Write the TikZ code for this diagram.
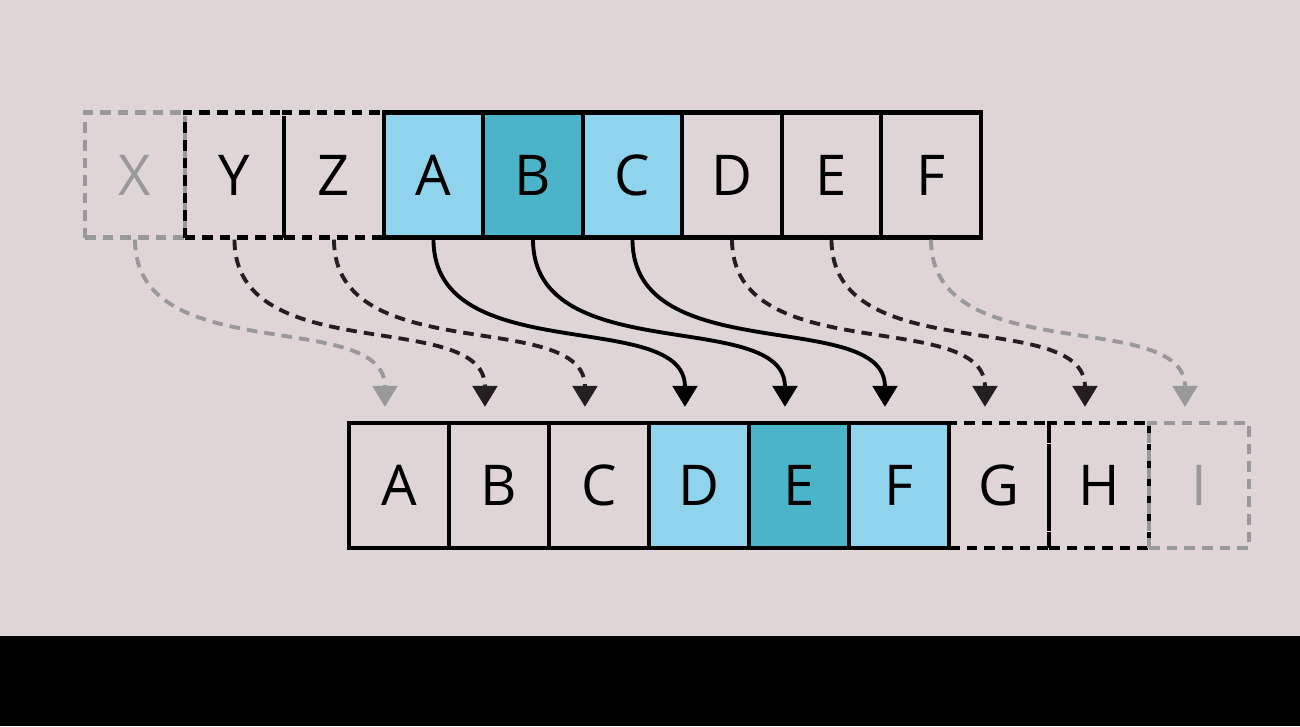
\documentclass[tikz,border=0pt]{standalone}
\usepackage{fontspec}
\setmainfont{Open Sans}
\usetikzlibrary{arrows.meta}
\definecolor{bgpink}{HTML}{DFD5D6}
\definecolor{lightblue}{HTML}{8FD3EC}
\definecolor{darkteal}{HTML}{4BB4C8}
\definecolor{ghostgray}{HTML}{999999}
\definecolor{arrowblack}{HTML}{231F20}
\tikzset{
  cell/.style={rectangle, minimum width=0.995cm, minimum height=1.25cm, inner sep=0pt,
    line width=1.2pt, font=\fontsize{16}{16}\selectfont},
  plainbox/.style={cell, draw=black},
  lightbox/.style={cell, draw=black, fill=lightblue},
  darkbox/.style={cell, draw=black, fill=darkteal},
  dashbox/.style={cell, draw=black, dash pattern=on 3pt off 2pt},
  ghostbox/.style={cell, draw=ghostgray, text=ghostgray, dash pattern=on 3pt off 2pt},
  shiftarrow/.style={line width=1.1pt, -{Triangle[width=7pt,length=6pt]}},
  solidarrow/.style={shiftarrow, draw=black},
  dasharrow/.style={shiftarrow, draw=arrowblack, dash pattern=on 3pt off 2pt},
  ghostarrow/.style={shiftarrow, draw=ghostgray, dash pattern=on 3pt off 2pt}
}
\begin{document}
\begin{tikzpicture}
\fill[bgpink] (0,0) rectangle (13,-6.36);
\fill[black] (0,-6.36) rectangle (13,-7.26);
\useasboundingbox (0,0) rectangle (13,-7.26);

% plain text
\foreach \l/\s [count=\i from 0] in {X/ghostbox,Y/dashbox,Z/dashbox,A/lightbox,B/darkbox,C/lightbox,D/plainbox,E/plainbox,F/plainbox}
  \node[\s] (t\i) at (1.35+0.995*\i,-1.75) {\l};

% cipher text
\foreach \l/\s [count=\i from 0] in {A/plainbox,B/plainbox,C/plainbox,D/lightbox,E/darkbox,F/lightbox,G/dashbox,H/dashbox,I/ghostbox}
  \node[\s] (b\i) at (3.99+1.0*\i,-4.855) {\l};

% shift by three
\foreach \i/\s in {0/ghostarrow,1/dasharrow,2/dasharrow,3/solidarrow,4/solidarrow,5/solidarrow,6/dasharrow,7/dasharrow,8/ghostarrow}
  \draw[\s] (t\i.south) .. controls +(0,-1.3) and +(0,1.0) .. ([yshift=4pt,xshift=-4pt]b\i.north);
\end{tikzpicture}
\end{document}
